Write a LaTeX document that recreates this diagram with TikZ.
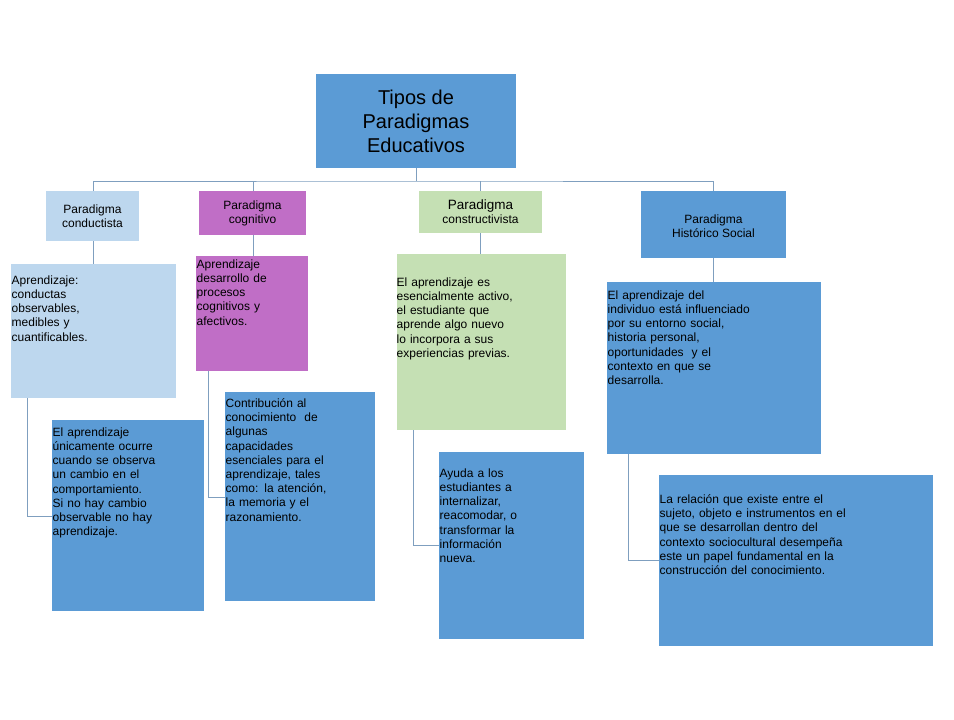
\documentclass[tikz,border=0pt]{standalone}
\usepackage{fontspec}
\setmainfont{Liberation Sans}
\definecolor{bl}{HTML}{5B9BD5}
\definecolor{lb}{HTML}{BDD7EE}
\definecolor{pu}{HTML}{C06EC6}
\definecolor{gr}{HTML}{C5E0B4}
\definecolor{ln}{HTML}{7F9FBF}
\begin{document}
\begin{tikzpicture}[x=1pt,y=-1pt,
 box/.style={anchor=north west,inner sep=1.5pt,font=\fontsize{12}{14.2}\selectfont},
 hd/.style={box,align=center},
 tx/.style={box,align=left},
 con/.style={draw=ln,line width=0.6pt}]
\useasboundingbox (0,0) rectangle (954,720);
\fill[white] (0,0) rectangle (954,720);
\newcommand\bx[7]{\fill[#6] (#2,#3) rectangle (#4,#5);
 \node[#7,text width={#4-#2-3pt},minimum height={#5-#3}] (#1) at (#2,#3) {};}
% title
\fill[bl] (316,74) rectangle (516,168);
\node[align=center,font=\fontsize{20}{24}\selectfont] (t) at (416,121) {Tipos de\\Paradigmas\\Educativos};
% level1
\fill[lb] (46,191) rectangle (139,241);
\node[align=center,font=\fontsize{12}{14}\selectfont] (a1) at (92.5,216) {Paradigma\\conductista};
\fill[pu] (199,191) rectangle (306,235);
\node[align=center,font=\fontsize{12}{14}\selectfont] (b1) at (252.5,213) {Paradigma\\cognitivo};
\fill[gr] (419,191) rectangle (542,233);
\node[align=center,font=\fontsize{12}{14}\selectfont] (c1) at (480.5,212) {{\fontsize{13.5}{14}\selectfont Paradigma}\\constructivista};
\fill[bl] (641,191) rectangle (786,258);
\node[align=center,font=\fontsize{12}{14}\selectfont] (d1) at (713.5,226) {Paradigma\\Histórico Social};
% level2
\fill[lb] (11,264) rectangle (176,398);
\node[tx,text width=160pt] (a2) at (10,274) {Aprendizaje:\\conductas\\observables,\\medibles y\\cuantificables.};
\fill[pu] (196,256) rectangle (308,371);
\node[tx,text width=110pt] (b2) at (195,258) {Aprendizaje\\desarrollo de\\procesos\\cognitivos y\\afectivos.};
\fill[gr] (397,254) rectangle (566,430);
\node[tx,text width=170pt] (c2) at (395,276) {El aprendizaje es\\esencialmente activo,\\el estudiante que\\aprende algo nuevo\\lo incorpora a sus\\experiencias previas.};
\fill[bl] (607,282) rectangle (821,454);
\node[tx,text width=212pt] (d2) at (606,289) {El aprendizaje del\\individuo está influenciado\\por su entorno social,\\historia personal,\\oportunidades\ \ y el\\contexto en que se\\desarrolla.};
% level3
\fill[bl] (52,420) rectangle (204,611);
\node[tx,text width=152pt] (a3) at (51,426) {El aprendizaje\\únicamente ocurre\\cuando se observa\\un cambio en el\\comportamiento.\\Si no hay cambio\\observable no hay\\aprendizaje.};
\fill[bl] (225,392) rectangle (375,601);
\node[tx,text width=150pt] (b3) at (224,397) {Contribución al\\conocimiento\ \ de\\algunas\\capacidades\\esenciales para el\\aprendizaje, tales\\como: la atención,\\la memoria y el\\razonamiento.};
\fill[bl] (439,452) rectangle (584,639);
\node[tx,text width=145pt] (c3) at (438,467) {Ayuda a los\\estudiantes a\\internalizar,\\reacomodar, o\\transformar la\\información\\nueva.};
\fill[bl] (659,475) rectangle (933,646);
\node[tx,text width=274pt] (d3) at (658,493) {La relación que existe entre el\\sujeto, objeto e instrumentos en el\\que se desarrollan dentro del\\contexto sociocultural desempeña\\este un papel fundamental en la\\construcción del conocimiento.};
% connectors
\coordinate (h) at (416,181);
\draw[con] (416,168) -- (h);
\draw[con] (93,191) |- (h) -| (713,191);
\draw[con] (253,181) -- (253,191);
\draw[con] (480,181) -- (480,191);
\draw[con] (93,241) -- (93,264);
\draw[con] (253,235) -- (253,256);
\draw[con] (480,233) -- (480,254);
\draw[con] (713,258) -- (713,282);
\draw[con] (27,398) |- (52,516);
\draw[con] (208,371) |- (225,497);
\draw[con] (413,430) |- (439,545);
\draw[con] (628,454) |- (659,560);
\end{tikzpicture}
\end{document}
